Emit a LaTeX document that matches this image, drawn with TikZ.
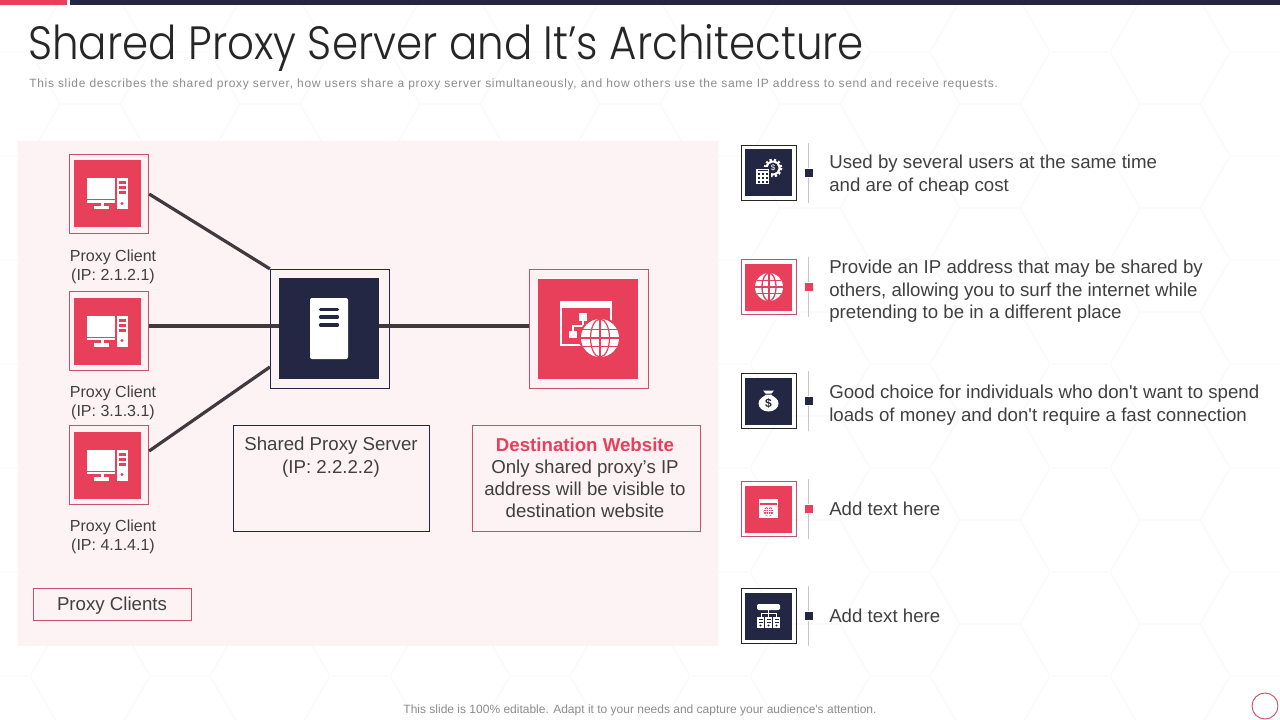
\documentclass[tikz,border=0pt]{standalone}
\usepackage{fontspec}
\setmainfont{Liberation Sans}
\newfontfamily\rawfont{Liberation Sans}
\newfontfamily\titlefont[FakeStretch=0.9]{Poppins Light}
\usetikzlibrary{calc}
\definecolor{rosered}{HTML}{E83F5B}
\definecolor{navy}{HTML}{232743}
\definecolor{edgerose}{HTML}{C8506A}
\definecolor{panelrose}{HTML}{FDF3F5}
\definecolor{linkdark}{HTML}{403A3E}
\definecolor{bodytext}{HTML}{404040}
\definecolor{mutedtext}{HTML}{8C8C8C}
\definecolor{hexline}{HTML}{FAFAFC}
\newcommand{\setpx}[2]{\fontsize{#1}{#2}\selectfont}
\newcommand{\apos}{{\rawfont'}}
\tikzset{
  x=0.75pt,y=-0.75pt,
  framebox/.style={draw=#1,line width=0.7pt,fill=none,inner sep=0,rectangle},
  tile/.style={fill=#1,draw=none,inner sep=0,rectangle},
  link/.style={draw=linkdark,line width=2.4pt},
  label/.style={text=bodytext,align=center,inner sep=0},
  ptxt/.style={text=bodytext,align=left,anchor=west,inner sep=0,font=\setpx{14pt}{17.25pt}},
}
% computer icon
\newcommand{\computer}[2]{%
 \begin{scope}[shift={(#1,#2)}]
  \fill[white] (-20.5,-15.5) rectangle (7.5,9);
  \fill[rosered] (-20.5,5.5) rectangle (7.5,6.5);
  \fill[white] (-6.5,9) rectangle (-3.5,12);
  \fill[white] (-13.5,12) rectangle (1,15.5);
  \fill[white] (9,-15.5) rectangle (20.5,15.5);
  \fill[rosered] (11,-12.5) rectangle (18,-9.5);
  \fill[rosered] (11,-7.5) rectangle (18,-4.5);
  \fill[rosered] (11,-2.5) rectangle (18,0.5);
  \fill[rosered] (14.5,9.5) circle (1.6);
 \end{scope}}
% globe: x,y,r,disc,line,lw
\newcommand{\globe}[6]{%
 \begin{scope}[shift={(#1,#2)}]
  \fill[#4] (0,0) circle (#3);
  \draw[#5,line width=#6] (0,-#3) -- (0,#3);
  \draw[#5,line width=#6] (0,0) ellipse ({0.5*#3} and #3);
  \draw[#5,line width=#6] (-#3,0) -- (#3,0);
  \draw[#5,line width=#6] ({-0.88*#3},{-0.45*#3}) -- ({0.88*#3},{-0.45*#3});
  \draw[#5,line width=#6] ({-0.88*#3},{0.45*#3}) -- ({0.88*#3},{0.45*#3});
 \end{scope}}
\begin{document}
\begin{tikzpicture}
\useasboundingbox (0,0) rectangle (1280,720);
\fill[white] (0,0) rectangle (1280,720);
% faint hexagon background
\foreach \c in {0,...,15}{
 \foreach \r in {-1,...,7}{
  \pgfmathsetmacro{\hx}{\c*90}
  \pgfmathsetmacro{\hy}{\r*104+mod(\c,2)*52}
  \draw[hexline,line width=0.7pt,shift={(\hx,\hy)}] (-60,0)--(-30,-52)--(30,-52)--(60,0)--(30,52)--(-30,52)--cycle;
 }}
% top bars
\fill[rosered] (0,0) rectangle (67,5);
\fill[navy] (70,0) rectangle (1280,5);
% title
\node[anchor=base west,inner sep=0,text=black!85,font=\titlefont\setpx{35pt}{38pt}] (title) at (28,60) {Shared Proxy Server and It’s Architecture};
\node[anchor=west,inner sep=0,text=mutedtext,font=\setpx{9pt}{11pt}\addfontfeatures{LetterSpace=5.8}] (sub) at (29,84) {This slide describes the shared proxy server, how users share a proxy server simultaneously, and how others use the same IP address to send and receive requests.};
% panel
\fill[panelrose,opacity=0.93] (18,141) rectangle (718,646);
% client tiles
\foreach \n/\cy in {c1/194,c2/331,c3/465}{
 \node[framebox=edgerose,minimum width=59.5pt,minimum height=59.5pt] (\n) at (109,\cy) {};
 \node[tile=rosered,minimum width=50.25pt,minimum height=50.25pt] (\n in) at (107.5,\cy) {};
 \computer{107.5}{\cy}
}
\coordinate (hub) at (330,326);
% server
\node[framebox=navy,minimum width=89.5pt,minimum height=89.5pt] (srv) at (330,329) {};
\node[tile=navy,minimum width=75pt,minimum height=75.5pt] (srvin) at (329,328.5) {};
\fill[white,rounded corners=1.5pt] (310,298) rectangle (348,359);
\foreach \ly in {309.5,317,325}{\draw[navy,line width=2.4pt,line cap=round] (320.5,\ly) -- (337.5,\ly);}
% destination
\node[framebox=edgerose,minimum width=89.5pt,minimum height=89.5pt] (dst) at (589,329) {};
\node[tile=rosered,minimum width=75pt,minimum height=75.5pt] (dstin) at (588,329) {};
\draw[white,line width=2.2pt] (561,302) rectangle (611,345);
\fill[white] (561,302) rectangle (611,308);
\fill[white] (579,313) rectangle (587,321);
\fill[white] (569,331) rectangle (577,338);
\draw[white,line width=1pt] (583,321) -- (583,326) -- (573,326) -- (573,331);
\draw[white,line width=1pt] (583,326) -- (592,326);
\fill[rosered] (600,338) circle (21);
\globe{600}{338}{19}{white}{rosered}{0.9pt}
% connectors
\draw[link] (c1.east) -- (srv.north west);
\draw[link] (c2.east |- hub) -- (srvin.west |- hub);
\draw[link] (c3.east) ++(0,-14) coordinate (c3o) -- (srv.west |- 0,367);
\draw[link] (srvin.east |- hub) -- (dst.west |- hub);
% client labels
\node[label,font=\setpx{12pt}{14.25pt}] (l1) at (113,266.5) {Proxy Client\\(IP: 2.1.2.1)};
\node[label,font=\setpx{12pt}{14.25pt}] (l2) at (113,402.5) {Proxy Client\\(IP: 3.1.3.1)};
\node[label,font=\setpx{12pt}{14.25pt}] (l3) at (113,536.5) {Proxy Client\\(IP: 4.1.4.1)};
% text boxes
\node[framebox=navy,minimum width=147.25pt,minimum height=79.75pt] (b1) at (331.5,478.5) {};
\node[label,font=\setpx{14pt}{17.25pt}] (b1t) at (331,457) {Shared Proxy Server\\(IP: 2.2.2.2)};
\node[framebox=edgerose,minimum width=171.25pt,minimum height=79.75pt] (b2) at (586.5,478.5) {};
\node[label,font=\setpx{14pt}{16.5pt}] (b2t) at (585,478) {{\bfseries\color{rosered}Destination Website}\\Only shared proxy’s IP\\address will be visible to\\destination website};
\node[framebox=edgerose,minimum width=118pt,minimum height=24.25pt] (b3) at (112.5,604.5) {};
\node[label,font=\setpx{14pt}{17pt}] (b3t) at (112,605.5) {Proxy Clients};
% right list: tiles, separators, bullets
\foreach \n/\cy/\col in {i1/173/navy,i2/287/rosered,i3/401/navy,i4/509/rosered,i5/616/navy}{
 \node[tile=\col,minimum width=35.25pt,minimum height=35.25pt] (\n in) at (768.5,\cy) {};
 \node[tile=\col,minimum width=6pt,minimum height=6pt] (\n b) at (809,\cy) {};
 \draw[black!22,line width=0.75pt] (808,\cy-30) -- (808,\cy-5);
 \draw[black!22,line width=0.75pt] (808,\cy+5) -- (808,\cy+30);
}
\foreach \n/\cy in {f1/173,f3/401,f5/616}{\node[framebox=black!85,minimum width=41.5pt,minimum height=41.5pt] (\n) at (769,\cy) {};}
\foreach \n/\cy in {f2/287,f4/509}{\node[framebox=edgerose,minimum width=41.5pt,minimum height=41.5pt] (\n) at (769,\cy) {};}
% icon 1: gear + calculator
\draw[white,line width=2pt,dash pattern=on 1.6pt off 1.6pt] (773,168) circle (8);
\fill[white] (773,168) circle (7.5);
\fill[navy] (773,168) circle (5.5);
\node[inner sep=0,text=white,font=\setpx{6pt}{6pt}] (ic1) at (773,168) {\$};
\fill[navy] (754,167) rectangle (771,186);
\fill[white] (756,169) rectangle (769,184);
\foreach \gx in {758.5,762.5,766.5}{\foreach \gy in {174,178,182}{\fill[navy] (\gx-1,\gy-1) rectangle (\gx+1,\gy+1);}}
\fill[navy] (757.5,170.5) rectangle (767.5,171.5);
% icon 2: globe
\globe{769}{287}{14}{white}{rosered}{1pt}
% icon 3: money bag
\fill[white] (768.5,403.5) ellipse (10 and 8);
\fill[white] (762,398) -- (775,398) -- (771,394.5) -- (766,394.5) -- cycle;
\fill[white] (763,390.5) -- (774,390.5) -- (771.5,393.5) -- (765.5,393.5) -- cycle;
\node[inner sep=0,text=navy,font=\setpx{9pt}{9pt}\bfseries] (ic3) at (768.5,403.5) {\$};
% icon 4: web window
\fill[white] (759,499) rectangle (778,518);
\fill[rosered] (760,503) rectangle (777,504.5);
\globe{768.5}{511.5}{5}{rosered}{white}{0.35pt}
% icon 5: servers
\fill[white,rounded corners=1pt] (757,604) rectangle (780,610);
\draw[white,line width=0.5pt] (768.5,610) -- (768.5,617) (761,617) -- (761,613.5) -- (776.5,613.5) -- (776.5,617);
\foreach \sx in {757,765,773}{
 \fill[white] (\sx,617) rectangle (\sx+7,628);
 \fill[navy] (\sx+1.5,619) rectangle (\sx+5.5,620);
 \fill[navy] (\sx+1.5,622) rectangle (\sx+5.5,623);
 \fill[navy] (\sx+3.5,625.5) circle (1.2);
}
% right texts
\node[ptxt] (t1) at (829,175) {Used by several users at the same time\\and are of cheap cost};
\node[ptxt,font=\setpx{14pt}{17pt}] (t2) at (829,291.5) {Provide an IP address that may be shared by\\others, allowing you to surf the internet while\\pretending to be in a different place};
\node[ptxt] (t3) at (829,405) {Good choice for individuals who don\apos{}t want to spend\\loads of money and don\apos{}t require a fast connection};
\node[ptxt] (t4) at (829,509) {Add text here};
\node[ptxt] (t5) at (829,616) {Add text here};
% footer
\node[inner sep=0,text=mutedtext,font=\setpx{9pt}{11pt}] (foot) at (640,710) {This slide is 100\% editable. Adapt it to your needs and capture your audience\apos{}s attention.};
\node[circle,draw=edgerose,line width=0.7pt,fill=white,minimum size=19.5pt,inner sep=0] (corner) at (1265,706) {};
\end{tikzpicture}
\end{document}
